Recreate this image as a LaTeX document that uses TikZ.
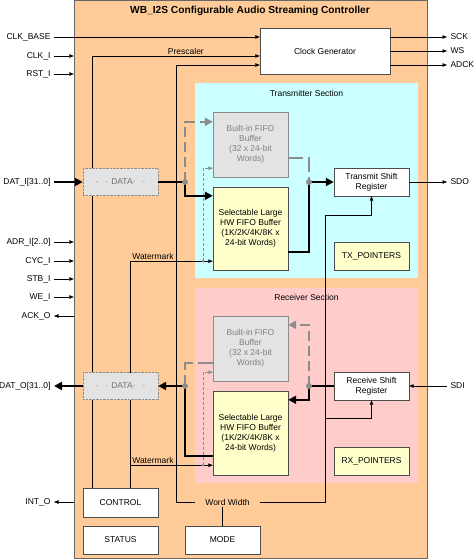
\documentclass[tikz,border=0pt]{standalone}
\usepackage{fontspec}
\setmainfont{Liberation Sans}
\usetikzlibrary{arrows.meta}
\definecolor{CoreOrange}{HTML}{FFCC99}
\definecolor{TxCyan}{HTML}{CCFFFF}
\definecolor{RxPink}{HTML}{FFCCCC}
\definecolor{FifoYellow}{HTML}{FFFFCC}
\definecolor{FifoGray}{HTML}{E3E3E3}
\definecolor{LineGray}{HTML}{8C8C8C}
\tikzset{
    every node/.style={font=\fontsize{8.5}{10}\selectfont},
    % Controller body
    core/.style={
        rectangle,
        draw=black!60,
        fill=CoreOrange,
        minimum width=353pt,
        minimum height=558pt,
        inner sep=0pt
    },
    % Transmitter / receiver area
    section/.style={
        rectangle,
        minimum width=223pt,
        minimum height=195pt,
        inner sep=0pt
    },
    % Plain block
    block/.style={
        rectangle,
        draw=black!70,
        fill=white,
        minimum width=75pt,
        minimum height=28pt,
        align=center,
        inner sep=1pt
    },
    % Built-in FIFO
    builtin/.style={
        rectangle,
        draw=LineGray,
        fill=FifoGray,
        text=black!50,
        minimum width=75pt,
        minimum height=65pt,
        align=center,
        inner sep=1pt
    },
    % Large FIFO and pointers
    largefifo/.style={
        rectangle,
        draw=black!70,
        fill=FifoYellow,
        minimum width=75pt,
        minimum height=28pt,
        align=center,
        inner sep=1pt
    },
    % Data register
    databox/.style={
        rectangle,
        draw=LineGray,
        densely dotted,
        fill=FifoGray,
        text=black!55,
        minimum width=75pt,
        minimum height=27pt,
        inner sep=1pt
    },
    % Junction dot
    joint/.style={
        circle,
        fill=LineGray,
        minimum size=6pt,
        inner sep=0pt
    },
    smalljoint/.style={
        circle,
        fill=LineGray,
        minimum size=3pt,
        inner sep=0pt
    },
    % Wires
    arrow/.style={
        -{Triangle[length=4.5pt,width=3.5pt]},
        line width=0.6pt,
        color=black
    },
    bigarrow/.style={
        -{Triangle[length=8pt,width=8pt]},
        line width=2pt,
        color=black
    },
    thickline/.style={
        line width=2pt,
        color=black
    },
    grayarrow/.style={
        -{Triangle[length=8pt,width=8pt]},
        line width=2pt,
        color=LineGray,
        dash pattern=on 10pt off 5pt
    },
    graythick/.style={
        line width=2pt,
        color=LineGray,
        dash pattern=on 15pt off 5pt
    },
    hintarrow/.style={
        -{Triangle[length=4.5pt,width=3.5pt]},
        line width=0.5pt,
        color=LineGray,
        dash pattern=on 3pt off 2pt
    }
}

\begin{document}
\begin{tikzpicture}[x=1pt, y=-1pt]
    \useasboundingbox (0,0) rectangle (474,559);

    % Controller body
    \node (core) [core] at (250.5,279.5) {};
    \node (title) [font=\fontsize{10.2}{12}\selectfont\bfseries] at (250,11) {WB\_I2S Configurable Audio Streaming Controller};

    \node (txsec) [section, fill=TxCyan] at (306.5,180.5) {};
    \node (rxsec) [section, fill=RxPink] at (306.5,385.5) {};
    \node (txtitle) at (306.5,93) {Transmitter Section};
    \node (rxtitle) at (306.5,297) {Receiver Section};

    % Ports
    \node (clkbase) [anchor=east] at (54,37) {CLK\_BASE};
    \node (clki) [anchor=east] at (54,56) {CLK\_I};
    \node (rsti) [anchor=east] at (54,74) {RST\_I};
    \node (dati) [anchor=east] at (54,182) {DAT\_I[31..0]};
    \node (adri) [anchor=east] at (54,242) {ADR\_I[2..0]};
    \node (cyci) [anchor=east] at (54,261) {CYC\_I};
    \node (stbi) [anchor=east] at (54,279) {STB\_I};
    \node (wei) [anchor=east] at (54,297) {WE\_I};
    \node (acko) [anchor=east] at (54,316) {ACK\_O};
    \node (dato) [anchor=east] at (54,386) {DAT\_O[31..0]};
    \node (into) [anchor=east] at (54,502) {INT\_O};
    \node (sck) [anchor=west] at (447,37) {SCK};
    \node (ws) [anchor=west] at (447,51) {WS};
    \node (adck) [anchor=west] at (447,65) {ADCK};
    \node (sdo) [anchor=west] at (447,182) {SDO};
    \node (sdi) [anchor=west] at (447,386) {SDI};

    % Blocks
    \node (clkgen) [block, minimum width=130pt, minimum height=46pt] at (325,51) {Clock Generator};
    \node (txbuilt) [builtin] at (250.5,144.5) {Built-in FIFO\\Buffer\\(32 x 24-bit\\Words)};
    \node (txlarge) [largefifo, minimum height=83pt] at (250.5,228.5) {Selectable Large\\HW FIFO Buffer\\(1K/2K/4K/8K x\\24-bit Words)};
    \node (txshift) [block] at (371.5,182) {Transmit Shift\\Register};
    \node (txptr) [largefifo] at (371.5,256) {TX\_POINTERS};
    \node (rxbuilt) [builtin] at (250.5,348.5) {Built-in FIFO\\Buffer\\(32 x 24-bit\\Words)};
    \node (rxlarge) [largefifo, minimum height=84pt] at (250.5,433) {Selectable Large\\HW FIFO Buffer\\(1K/2K/4K/8K x\\24-bit Words)};
    \node (rxshift) [block] at (371.5,386) {Receive Shift\\Register};
    \node (rxptr) [largefifo] at (371.5,461) {RX\_POINTERS};
    \node (control) [block, minimum height=29pt] at (120.5,502.5) {CONTROL};
    \node (status) [block] at (120.5,540) {STATUS};
    \node (mode) [block] at (222.5,540) {MODE};
    \node (ww) [inner xsep=10pt, inner ysep=2pt] at (227.5,502) {Word Width};

    \coordinate (txin) at (185,182);
    \coordinate (txout) at (309,182);
    \coordinate (rxin) at (309,386);
    \coordinate (rxout) at (185,386);
    \coordinate (wmtx) at (203,261);
    \coordinate (wmrx) at (203,465);
    \coordinate (wwbend) at (176,502);
    \coordinate (wwtx) at (325,215);
    \coordinate (wwrx) at (325,418);

    % Clock and bus wires
    \draw [arrow] (clkbase) -- (clkbase -| clkgen.west);
    \draw [arrow] (clki) -- (clki -| core.west);
    \draw [arrow] (rsti) -- (rsti -| core.west);
    \draw [arrow] (adri) -- (adri -| core.west);
    \draw [arrow] (cyci) -- (cyci -| core.west);
    \draw [arrow] (stbi) -- (stbi -| core.west);
    \draw [arrow] (wei) -- (wei -| core.west);
    \draw [arrow] (acko -| core.west) -- (acko);
    \draw [arrow] (into -| core.west) -- (into);
    \draw [arrow] (clkgen.east |- sck) -- (sck);
    \draw [arrow] (clkgen.east |- ws) -- (ws);
    \draw [arrow] (clkgen.east |- adck) -- (adck);
    \draw [arrow] ([xshift=9pt]control.north west) |- ([yshift=-5pt]clkgen.west) node (presc) [pos=0.78, above, inner sep=1.5pt] {Prescaler};

    % Word width
    \draw [arrow] (ww.west) -- (wwbend) |- ([yshift=-14pt]clkgen.west);
    \draw (ww.east) -| (wwtx);
    \draw [arrow] (wwtx) -| (txshift.south);
    \draw [arrow] (wwrx) -| (rxshift.south);
    \draw (mode.north) -- (mode.north |- ww.south);

    % Watermark
    \draw [arrow] ([xshift=9.5pt]control.north) |- ([yshift=9pt]txlarge.south west) node (wmtxlabel) [pos=0.5, anchor=south west, inner xsep=2pt, inner ysep=1pt] {Watermark};
    \draw [arrow] ([xshift=9.5pt]control.north) |- ([yshift=10pt]rxlarge.south west) node (wmrxlabel) [pos=0.5, anchor=south west, inner xsep=2pt, inner ysep=1pt] {Watermark};
    \draw [hintarrow] (wmtx) |- ([yshift=9pt]txbuilt.south west);
    \draw [hintarrow] (wmrx) |- ([yshift=9pt]rxbuilt.south west);

    % Data registers
    \node (txdata) [databox] at (120.5,182) {\textperiodcentered\hspace{7pt}\textperiodcentered\hspace{3pt}DATA\textperiodcentered\hspace{7pt}\textperiodcentered};
    \node (rxdata) [databox] at (120.5,386) {\textperiodcentered\hspace{7pt}\textperiodcentered\hspace{3pt}DATA\textperiodcentered\hspace{7pt}\textperiodcentered};

    % Transmit data path
    \draw [bigarrow] (dati) -- (txdata);
    \draw [thickline] (txdata) -- (txin);
    \draw [bigarrow] (txin) |- ([yshift=-9pt]txlarge.north west);
    \draw [grayarrow] (txin) |- ([yshift=-10pt]txbuilt.north west);
    \draw [thickline] ([yshift=18pt]txlarge.south east) -| (txout);
    \draw [graythick] ([yshift=-13.5pt]txbuilt.east) -| (txout);
    \draw [bigarrow] (txout) -- (txshift);
    \draw [arrow] (txshift) -- (sdo);

    % Receive data path
    \draw [arrow] (sdi) -- (rxshift);
    \draw [thickline] (rxshift) -- (rxin);
    \draw [bigarrow] (rxin) |- ([yshift=-9pt]rxlarge.north east);
    \draw [grayarrow] (rxin) |- ([yshift=-9pt]rxbuilt.north east);
    \draw [thickline] ([yshift=19pt]rxlarge.south west) -| (rxout);
    \draw [graythick] ([yshift=18pt]rxbuilt.south west) -| (rxout);
    \draw [bigarrow] (rxout) -- (rxdata);
    \draw [bigarrow] (rxdata) -- (dato);

    % Junctions
    \node (txindot) [joint] at (txin) {};
    \node (txoutdot) [joint] at (txout) {};
    \node (rxindot) [joint] at (rxin) {};
    \node (rxoutdot) [joint] at (rxout) {};
    \node (wmtxdot) [smalljoint] at (wmtx) {};
    \node (wmrxdot) [smalljoint] at (wmrx) {};
\end{tikzpicture}
\end{document}
